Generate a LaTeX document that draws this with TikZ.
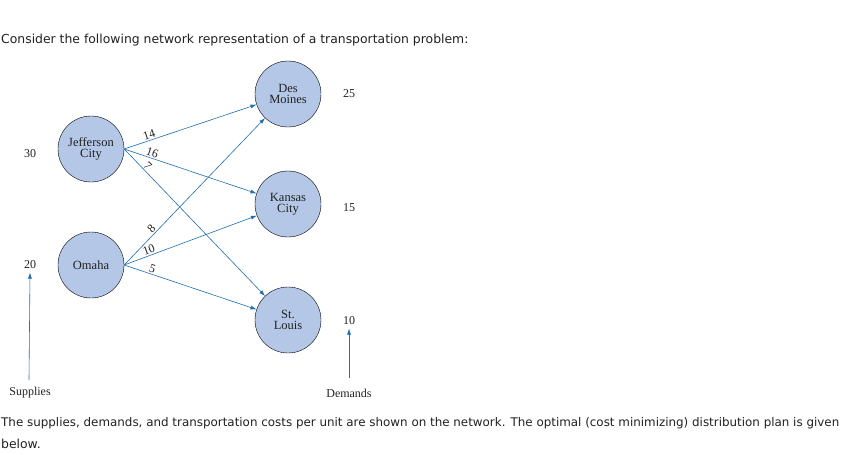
\documentclass[tikz,border=0pt]{standalone}
\usepackage{fontspec}
\setmainfont{Liberation Serif}
\newfontfamily\webfont{DejaVu Sans}
\usetikzlibrary{arrows.meta}
\definecolor{nodefill}{HTML}{B4C7E7}
\definecolor{edgeblue}{HTML}{1F6FB2}
\definecolor{txt}{HTML}{222222}
\tikzset{
  city/.style={circle,draw=black,fill=nodefill,minimum size=66pt,inner sep=0pt,align=center,font=\fontsize{12.5}{11}\selectfont,text=txt},
  flow/.style={draw=edgeblue,-{Latex[length=6pt,width=4pt]},line width=0.6pt},
  cost/.style={font=\fontsize{12}{11}\selectfont,sloped,above,inner sep=1pt,text=txt},
  num/.style={font=\fontsize{12}{11}\selectfont,text=txt},
  web/.style={font=\webfont\fontsize{12.4}{14}\selectfont,anchor=west,inner sep=0pt,text=txt}
}
\begin{document}
\begin{tikzpicture}[x=1pt,y=-1pt]
\useasboundingbox[fill=white] (0,0) rectangle (868,455);
\node[web] (t1) at (1,40) {Consider the following network representation of a transportation problem:};
\node[city] (jc) at (91,149) {Jefferson\\City};
\node[city] (om) at (91,265) {Omaha};
\node[city] (dm) at (288,94) {Des\\Moines};
\node[city] (kc) at (288,204) {Kansas\\City};
\node[city] (sl) at (288,320) {St.\\Louis};
\draw[flow] (jc.east) -- node[cost,pos=0.2]{14} (dm);
\draw[flow] (jc.east) -- node[cost,pos=0.2]{16} (kc);
\draw[flow] (jc.east) -- node[cost,pos=0.14]{7} (sl);
\draw[flow] (om.east) -- node[cost,pos=0.22]{8} (dm);
\draw[flow] (om.east) -- node[cost,pos=0.2]{10} (kc);
\draw[flow] (om.east) -- node[cost,pos=0.2]{5} (sl);
\node[num] (s1) at (30,154) {30};
\node[num] (s2) at (30,265) {20};
\node[num] (d1) at (349,94) {25};
\node[num] (d2) at (349,208) {15};
\node[num] (d3) at (349,321) {10};
\node[num] (sup) at (30,393) {Supplies};
\node[num] (dem) at (349,393) {Demands};
\coordinate (sa) at (29,380);
\coordinate (da) at (349,378);
\draw[flow] (sa) -- (s2.south);
\draw[flow] (da) -- (d3.south);
\node[web,font=\webfont\fontsize{11.9}{14}\selectfont] (t2) at (1,423) {The supplies, demands, and transportation costs per unit are shown on the network. The optimal (cost minimizing) distribution plan is given};
\node[web] (t3) at (1,444) {below.};
\end{tikzpicture}
\end{document}
